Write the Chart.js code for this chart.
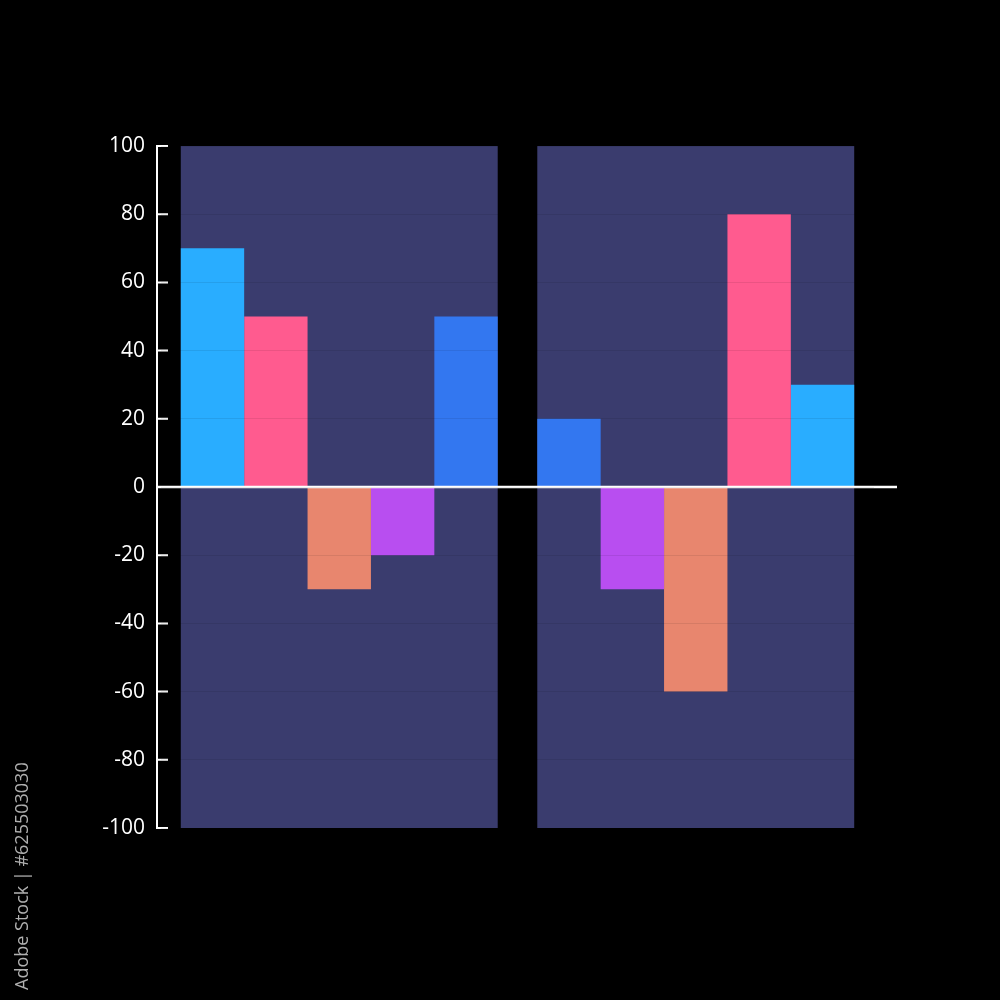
<!DOCTYPE html>
<html>
<head>
<meta charset="utf-8">
<script src="https://cdn.jsdelivr.net/npm/chart.js@4"></script>
<style>
  html, body { margin: 0; padding: 0; background: #000; }
  #wrap { width: 1000px; height: 1000px; }
</style>
</head>
<body>
<div id="wrap"><canvas id="chart" width="1000" height="1000"></canvas></div>
<script>
// groups and bar values (one array per bar slot inside a group)
var groups = ['A', 'B'];
var slot1 = [70, 20];
var slot2 = [50, -30];
var slot3 = [-30, -60];
var slot4 = [-20, 80];
var slot5 = [50, 30];
var yTicks = [-100, -80, -60, -40, -20, 0, 20, 40, 60, 80, 100];

// colours
var cyan = '#29adff', pink = '#ff5b8f', salmon = '#e8866e', purple = '#b84ef0', blue = '#3377f0';
var panelColor = '#3a3c6e';
var catPct = 0.889;

function slot(values, colors) {
  return {
    data: values,
    backgroundColor: colors,
    borderWidth: 0,
    barPercentage: 1,
    categoryPercentage: catPct,
    order: 0
  };
}

// axis, ticks, zero line and id text
var decor = {
  id: 'decor',
  afterDatasetsDraw: function(chart) {
    var ctx = chart.ctx;
    var y = chart.scales.y;
    var area = chart.chartArea;
    var ax = area.left - 4;
    ctx.save();
    ctx.strokeStyle = '#ffffff';
    ctx.lineWidth = 2;
    ctx.beginPath();
    ctx.moveTo(ax, y.getPixelForValue(100) - 1);
    ctx.lineTo(ax, y.getPixelForValue(-100) + 1);
    yTicks.forEach(function(v) {
      var py = y.getPixelForValue(v);
      ctx.moveTo(ax, py);
      ctx.lineTo(ax + 11, py);
    });
    ctx.stroke();
    // zero line
    ctx.lineWidth = 2.5;
    ctx.beginPath();
    var y0 = y.getPixelForValue(0);
    ctx.moveTo(ax, y0);
    ctx.lineTo(area.right + 23, y0);
    ctx.stroke();
    // vertical stock id
    ctx.translate(28, 990);
    ctx.rotate(-Math.PI / 2);
    ctx.fillStyle = '#b0b0b0';
    ctx.font = '18px "Open Sans"';
    ctx.textBaseline = 'alphabetic';
    ctx.fillText('Adobe Stock | #625503030', 0, 0);
    ctx.restore();
  }
};

new Chart(document.getElementById('chart'), {
  type: 'bar',
  data: {
    labels: groups,
    datasets: [
      slot(slot1, [cyan, blue]),
      slot(slot2, [pink, purple]),
      slot(slot3, [salmon, salmon]),
      slot(slot4, [purple, pink]),
      slot(slot5, [blue, cyan]),
      {
        data: [[-100, 100], [-100, 100]],
        backgroundColor: panelColor,
        borderWidth: 0,
        grouped: false,
        barPercentage: 1,
        categoryPercentage: catPct,
        order: 10
      }
    ]
  },
  options: {
    responsive: false,
    animation: false,
    layout: { padding: { left: 0, right: 126, top: 146, bottom: 172 } },
    plugins: { legend: { display: false }, tooltip: { enabled: false } },
    scales: {
      x: { display: false },
      y: {
        min: -100,
        max: 100,
        afterBuildTicks: function(scale) {
          scale.ticks = yTicks.map(function(v) { return { value: v }; });
        },
        afterFit: function(scale) { scale.width = 161; },
        border: { display: false },
        grid: { color: 'rgba(0,0,0,0.08)', drawTicks: false, z: 1 },
        ticks: {
          color: '#ffffff',
          padding: 16,
          font: { family: '"Open Sans"', size: 21 }
        }
      }
    }
  },
  plugins: [decor]
});
</script>
</body>
</html>
